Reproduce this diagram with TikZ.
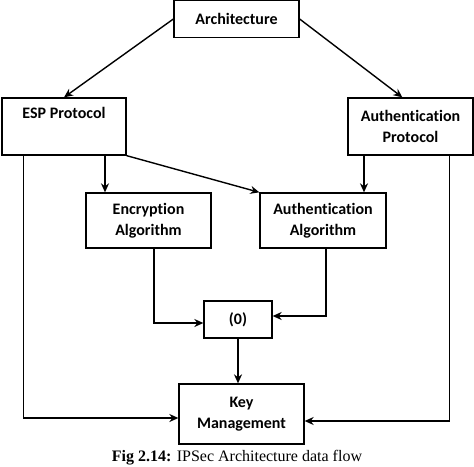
\documentclass[tikz,border=0pt]{standalone}
\usepackage{fontspec}
\setmainfont[Ligatures=NoCommon]{Carlito}
\newfontfamily\capfont{Liberation Serif}
\usetikzlibrary{arrows.meta}
\begin{document}
\begin{tikzpicture}[x=1pt,y=-1pt,
  box/.style={draw, line width=1.3pt, rectangle, inner sep=0pt, align=center,
    font=\fontsize{16}{21.5}\selectfont\bfseries},
  arr/.style={line width=1.4pt, -{Stealth[length=9pt,width=8pt]}}]
\useasboundingbox (0,0) rectangle (474,466);
\node[box, minimum width=125pt, minimum height=37pt] (arch) at (236.5,19) {Architecture};
\node[box, minimum width=124pt, minimum height=57pt] (esp) at (64,126.5) {ESP Protocol\\\strut};
\node[box, minimum width=125pt, minimum height=57pt] (apr) at (410.5,126.5) {Authentication\\Protocol};
\node[box, minimum width=125pt, minimum height=55pt] (enc) at (148.5,220.5) {Encryption\\Algorithm};
\node[box, minimum width=126pt, minimum height=55pt] (aalg) at (323,220.5) {Authentication\\Algorithm};
\node[box, minimum width=68pt, minimum height=37pt] (zero) at (238,319.5) {(0)};
\node[box, minimum width=125pt, minimum height=60pt] (km) at (241.5,414) {Key\\Management};
\node[anchor=base, inner sep=0pt, font=\capfont\fontsize{16}{18}\selectfont] (cap) at (237,461) {\textbf{Fig 2.14:} IPSec Architecture data flow};
\draw[arr] (arch.west) -- (esp.north);
\draw[arr] (arch.east) -- ([xshift=55pt]apr.north west);
\draw[arr] ([xshift=41pt]esp.south) -- ([xshift=41pt]esp.south |- enc.north);
\draw[arr] (esp.south east) -- (aalg.north west);
\draw[arr] ([xshift=-46.5pt]apr.south) -- ([xshift=-46.5pt]apr.south |- aalg.north);
\draw[arr] ([xshift=22pt]esp.south west) |- ([yshift=-4pt]km.west);
\draw[arr] ([xshift=-24pt]apr.south east) |- ([yshift=-7pt]km.east);
\draw[arr] ([xshift=5.5pt]enc.south) |- ([yshift=-3.5pt]zero.west);
\draw[arr] ([xshift=3pt]aalg.south) |- ([yshift=3.5pt]zero.east);
\draw[arr] (zero.south) -- (zero.south |- km.north);
\end{tikzpicture}
\end{document}
